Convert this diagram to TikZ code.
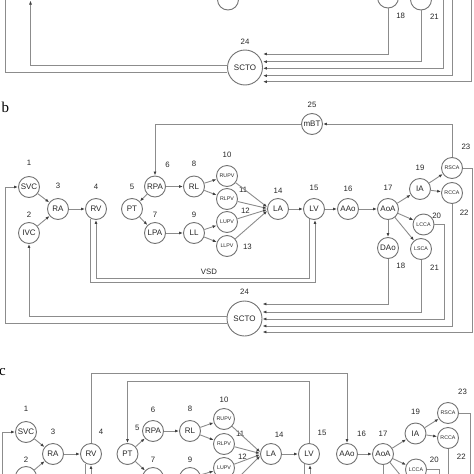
\documentclass[tikz,border=0pt]{standalone}
\usepackage{fontspec}
\setmainfont{Liberation Sans}
\newfontfamily\panelfont{Liberation Serif}
\usetikzlibrary{arrows.meta}

\begin{document}
\begin{tikzpicture}[x=1pt,y=-1pt]
\tikzstyle{main}=[circle, minimum size=21pt, inner sep=0pt, line width=0.9pt, draw=black!55, text=black!85, font=\fontsize{8}{9}\selectfont]
\tikzstyle{small}=[main, font=\fontsize{5.3}{6}\selectfont]
\tikzstyle{big}=[main, minimum size=35pt]
\tikzstyle{num}=[inner sep=1pt, text=black!85, font=\fontsize{7.8}{9}\selectfont]
\tikzstyle{connect}=[-{Latex[length=4pt,width=3pt,color=black!75]}, line width=0.9pt, draw=black!45]
\tikzstyle{line}=[line width=0.9pt, draw=black!45]
\tikzstyle{panel}=[inner sep=0pt, anchor=base west, text=black, font=\panelfont\fontsize{15}{15}\selectfont]
  \useasboundingbox (0,0) rectangle (474,474);
  \clip (0,0) rectangle (474,474);

  % panel a (only its lower part is in view)
  \node[main] (aLLPV) at (228,-0.5) {};
  \node[main] (aDAo) at (388,-2.5) [label={[num,label distance=4.6pt]-63:18}] {};
  \node[small] (aLSCA) at (421,-0.5) [label={[num,label distance=4.2pt]-59:21}] {};
  \node[big] (aSCTO) at (245,67.5) [label={[num,label distance=3.9pt]90:24}] {SCTO};
  \coordinate (aIVC) at (30.5,0.5);
  \coordinate (aSVC) at (5,-5);
  \coordinate (aLCCA) at (443,-5);
  \coordinate (aRCCA) at (452,-5);
  \coordinate (aRSCA) at (471,-5);
  \draw[connect] (aDAo.south) |- ([yshift=13.5pt]aSCTO.east);
  \draw[connect] (aLSCA.south) |- ([yshift=5.8pt]aSCTO.east);
  \draw[connect] (aLCCA) |- ([yshift=-0.8pt]aSCTO.east);
  \draw[connect] (aRCCA) |- ([yshift=-8.2pt]aSCTO.east);
  \draw[connect] (aRSCA) |- ([yshift=-14.2pt]aSCTO.east);
  \draw[connect] ([yshift=1.8pt]aSCTO.west) -| (aIVC);
  \draw[line] ([yshift=-4.8pt]aSCTO.west) -| (aSVC);

  % panel b
  \node[panel] (lb) at (1.5,112.7) {b};
  \node[main] (SVC) at (29,187) [label={[num,label distance=9.4pt]90:1}] {SVC};
  \node[main] (IVC) at (29,233) [label={[num,label distance=3.4pt]90:2}] {IVC};
  \node[main] (RA) at (58,209) [label={[num,label distance=8.4pt]90:3}] {RA};
  \node[main] (RV) at (96,209) [label={[num,label distance=7.4pt]90:4}] {RV};
  \node[main] (PT) at (132,209) [label={[num,label distance=7.4pt]90:5}] {PT};
  \node[main] (RPA) at (155,186.5) [label={[num,label distance=9pt]63:6}] {RPA};
  \node[main] (LPA) at (155,233) [label={[num,label distance=3.4pt]90:7}] {LPA};
  \node[main] (RL) at (194,186.5) [label={[num,label distance=7.9pt]90:8}] {RL};
  \node[main] (LL) at (194,233) [label={[num,label distance=3.4pt]90:9}] {LL};
  \node[small] (RUPV) at (227,176) [label={[num,label distance=6.4pt]90:10}] {RUPV};
  \node[small] (RLPV) at (227,199) [label={[num,label distance=1.2pt]27:11}] {RLPV};
  \node[small] (LUPV) at (227,222) [label={[num,label distance=3.8pt]29:12}] {LUPV};
  \node[small] (LLPV) at (227,246) [label={[num,label distance=3.9pt]-2:13}] {LLPV};
  \node[main] (LA) at (278,209) [label={[num,label distance=3.4pt]90:14}] {LA};
  \node[main] (LV) at (314,209) [label={[num,label distance=6.4pt]90:15}] {LV};
  \node[main] (AAo) at (348,209) [label={[num,label distance=5.4pt]90:16}] {AAo};
  \node[main] (AoA) at (388,209) [label={[num,label distance=6.4pt]90:17}] {AoA};
  \node[main] (IA) at (420,189) [label={[num,label distance=6.4pt]90:19}] {IA};
  \node[small] (RSCA) at (452,168) [label={[num,label distance=8.3pt]64:23}] {RSCA};
  \node[small] (RCCA) at (452,193) [label={[num,label distance=6.6pt]-68:22}] {RCCA};
  \node[small] (LCCA) at (423.5,224.5) [label={[num,label distance=-2pt]32:20}] {LCCA};
  \node[main] (DAo) at (388,248) [label={[num,label distance=5pt]-63:18}] {DAo};
  \node[small] (LSCA) at (421,249) [label={[num,label distance=5.5pt]-61:21}] {LSCA};
  \node[main] (mBT) at (312,124) [label={[num,label distance=4.4pt]90:25}] {mBT};
  \node[big] (SCTO) at (244.5,318.5) [label={[num,label distance=4.9pt]90:24}] {SCTO};
  \path (SVC) edge [connect] (RA)
        (IVC) edge [connect] (RA)
        (RA) edge [connect] (RV)
        (RPA) edge [connect] (PT)
        (PT) edge [connect] (LPA)
        (RPA) edge [connect] (RL)
        (LPA) edge [connect] (LL)
        (RL) edge [connect] (RUPV)
        (RL) edge [connect] (RLPV)
        (LL) edge [connect] (LUPV)
        (LL) edge [connect] (LLPV)
        (RUPV) edge [connect] (LA.170)
        (RLPV) edge [connect] (LA.177)
        (LUPV) edge [connect] (LA.183)
        (LLPV) edge [connect] (LA.190)
        (LA) edge [connect] (LV)
        (LV) edge [connect] (AAo)
        (AAo) edge [connect] (AoA)
        (AoA) edge [connect] (IA)
        (AoA) edge [connect] (LCCA)
        (AoA) edge [connect] (LSCA)
        (AoA) edge [connect] (DAo)
        (IA) edge [connect] (RSCA)
        (IA) edge [connect] (RCCA);
  % shunt and VSD
  \draw[connect] (RSCA.north) |- (mBT.east);
  \draw[connect] (mBT.west) -| (RPA.north);
  \draw[connect] (RV.-118) -- ++(0,63.8) -| ([xshift=1pt]LV.south);
  \draw[connect] (LV.-112) -- ++(0,59.3) -| (RV.south);
  \node[num] (vsd) at (209,272) {VSD};
  % into SCTO
  \draw[connect] (DAo.south) |- ([yshift=14.5pt]SCTO.east);
  \draw[connect] (LSCA.south) |- ([yshift=6.5pt]SCTO.east);
  \draw[connect] (LCCA.east) -- ++(9.5,0) |- ([yshift=-0.5pt]SCTO.east);
  \draw[connect] (RCCA.south) |- ([yshift=-7.5pt]SCTO.east);
  \draw[connect] (RSCA.east) -- ++(9.5,0) |- ([yshift=-13.5pt]SCTO.east);
  \draw[connect] ([yshift=2.5pt]SCTO.west) -| (IVC.south);
  \draw[connect] ([yshift=-4.5pt]SCTO.west) -- ++(-221,0) |- (SVC.west);

  % panel c
  \node[panel] (lc) at (-1,375) {c};
  \node[main] (cSVC) at (26,432) [label={[num,label distance=8.4pt]90:1}] {SVC};
  \node[main] (cIVC) at (26,477) [label={[num,label distance=2.4pt]90:2}] {};
  \node[main] (cRA) at (53,454) [label={[num,label distance=7.4pt]90:3}] {RA};
  \node[main] (cRV) at (91,454) [label={[num,label distance=8.6pt]70:4}] {RV};
  \node[main] (cPT) at (127.5,454) [label={[num,label distance=12pt]74:5}] {PT};
  \node[main] (cRPA) at (153,431) [label={[num,label distance=6.4pt]90:6}] {RPA};
  \node[main] (cLPA) at (153,478) [label={[num,label distance=3.4pt]90:7}] {};
  \node[main] (cRL) at (190,431) [label={[num,label distance=7.4pt]90:8}] {RL};
  \node[main] (cLL) at (190,478) [label={[num,label distance=3.4pt]90:9}] {};
  \node[small] (cRUPV) at (224,419) [label={[num,label distance=4.4pt]90:10}] {RUPV};
  \node[small] (cRLPV) at (224,444) [label={[num,label distance=1.6pt]29:11}] {RLPV};
  \node[small] (cLUPV) at (224,468) [label={[num,label distance=4.1pt]31:12}] {LUPV};
  \node[main] (cLA) at (271,454) [label={[num,label distance=4.6pt]80:14}] {LA};
  \node[main] (cLV) at (309,454) [label={[num,label distance=7.4pt]66:15}] {LV};
  \node[main] (cAAo) at (347,454) [label={[num,label distance=7.7pt]61:16}] {AAo};
  \node[main] (cAoA) at (383,454) [label={[num,label distance=5.4pt]90:17}] {AoA};
  \node[main] (cIA) at (415.5,433.5) [label={[num,label distance=6.4pt]90:19}] {IA};
  \node[small] (cRSCA) at (448,413) [label={[num,label distance=8.2pt]62:23}] {RSCA};
  \node[small] (cRCCA) at (448,438) [label={[num,label distance=6.2pt]-63:22}] {RCCA};
  \node[small] (cLCCA) at (416,469.5) [label={[num,label distance=2.9pt]23:20}] {LCCA};
  \coordinate (cLLPV) at (224,492);
  \coordinate (cDAo) at (383,492);
  \coordinate (cLSCA) at (415,493);
  \coordinate (cSVCin) at (2,490);
  \coordinate (cLCCAout) at (439,490);
  \coordinate (cRSCAout) at (470,490);
  \path (cSVC) edge [connect] (cRA)
        (cIVC) edge [connect] (cRA)
        (cRA) edge [connect] (cRV)
        (cPT) edge [connect] (cRPA)
        (cPT) edge [connect] (cLPA)
        (cRPA) edge [connect] (cRL)
        (cRL) edge [connect] (cRUPV)
        (cRL) edge [connect] (cRLPV)
        (cLL) edge [connect] (cLUPV)
        (cRUPV) edge [connect] (cLA.170)
        (cRLPV) edge [connect] (cLA.177)
        (cLUPV) edge [connect] (cLA.183)
        (cLLPV) edge [connect] (cLA.190)
        (cLA) edge [connect] (cLV)
        (cAAo) edge [connect] (cAoA)
        (cAoA) edge [connect] (cIA)
        (cAoA) edge [connect] (cLCCA)
        (cAoA) edge [connect] (cLSCA)
        (cAoA) edge [connect] (cDAo)
        (cIA) edge [connect] (cRSCA)
        (cIA) edge [connect] (cRCCA);
  % switched great arteries and VSD
  \draw[connect] (cRV.north) -- ++(0,-70) -| (cAAo.north);
  \draw[connect] (cLV.north) -- ++(0,-62) -| (cPT.north);
  \draw[connect] (cRV.-118) -- ++(0,63.8) -| ([xshift=1pt]cLV.south);
  \draw[connect] (cLV.-112) -- ++(0,59.3) -| (cRV.south);
  \draw[connect] (cSVCin) |- (cSVC.west);
  \draw[line] (cLCCA.east) -| (cLCCAout);
  \draw[line] (cRCCA.south) -- ++(0,60);
  \draw[line] (cRSCA.east) -| (cRSCAout);
\end{tikzpicture}
\end{document}
